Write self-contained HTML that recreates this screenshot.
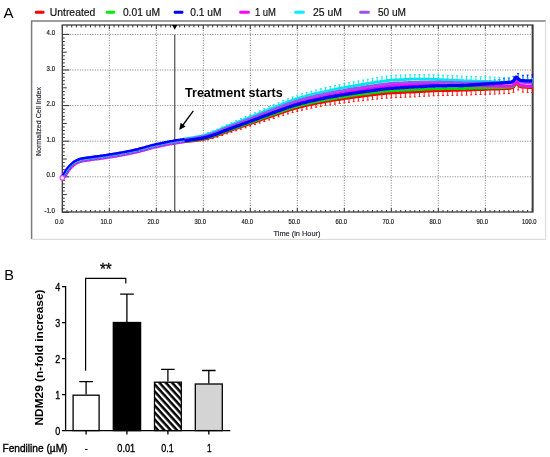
<!DOCTYPE html>
<html lang="en"><head><meta charset="utf-8"><title>Figure</title>
<style>html,body{margin:0;padding:0;background:#fff}svg{display:block}text{font-family:"Liberation Sans",Arial,sans-serif}</style></head>
<body>
<svg width="550" height="457" viewBox="0 0 550 457">
<rect width="550" height="457" fill="#fff"/>
<text x="3.6" y="17.8" font-size="15" fill="#000">A</text>
<rect x="34.8" y="10.8" width="9.7" height="2.9" rx="1.2" fill="#ff0000"/>
<text x="49.8" y="16" font-size="11" fill="#111" stroke="#111" stroke-width="0.2" textLength="45.5" lengthAdjust="spacingAndGlyphs">Untreated</text>
<rect x="105.7" y="10.8" width="9.4" height="2.9" rx="1.2" fill="#00ee00"/>
<text x="122.9" y="16" font-size="11" fill="#111" stroke="#111" stroke-width="0.2" textLength="37.1" lengthAdjust="spacingAndGlyphs">0.01 uM</text>
<rect x="173.7" y="10.8" width="9.7" height="2.9" rx="1.2" fill="#0000ff"/>
<text x="190.2" y="16" font-size="11" fill="#111" stroke="#111" stroke-width="0.2" textLength="31.3" lengthAdjust="spacingAndGlyphs">0.1 uM</text>
<rect x="239.2" y="10.8" width="10.6" height="2.9" rx="1.2" fill="#ff00ff"/>
<text x="255" y="16" font-size="11" fill="#111" stroke="#111" stroke-width="0.2" textLength="21.0" lengthAdjust="spacingAndGlyphs">1 uM</text>
<rect x="294.2" y="10.8" width="10.6" height="2.9" rx="1.2" fill="#00f0ff"/>
<text x="313" y="16" font-size="11" fill="#111" stroke="#111" stroke-width="0.2" textLength="29.0" lengthAdjust="spacingAndGlyphs">25 uM</text>
<rect x="359.2" y="10.8" width="10.6" height="2.9" rx="1.2" fill="#a050f0"/>
<text x="378" y="16" font-size="11" fill="#111" stroke="#111" stroke-width="0.2" textLength="28.0" lengthAdjust="spacingAndGlyphs">50 uM</text>
<path d="M31.6 239.3 V20.9 H546" fill="none" stroke="#7d7d7d" stroke-width="1.5"/>
<path d="M31.6 239.3 H545.6 V20.9" fill="none" stroke="#dcdcdc" stroke-width="1.2"/>
<path d="M109.3 25.0 V212.0 M156.3 25.0 V212.0 M203.3 25.0 V212.0 M250.3 25.0 V212.0 M297.3 25.0 V212.0 M344.3 25.0 V212.0 M391.3 25.0 V212.0 M438.3 25.0 V212.0 M485.3 25.0 V212.0 M62.3 176.8 H532.3 M62.3 141.2 H532.3 M62.3 105.6 H532.3 M62.3 70.0 H532.3 M62.3 34.4 H532.3" fill="none" stroke="#858585" stroke-width="1" stroke-dasharray="1.1 1.4"/>
<path d="M62.3 212.0 v-4 M62.3 25.0 v4.2 M67.0 212.0 v-2 M67.0 25.0 v2.4 M71.7 212.0 v-2 M71.7 25.0 v2.4 M76.4 212.0 v-2 M76.4 25.0 v2.4 M81.1 212.0 v-2 M81.1 25.0 v2.4 M85.8 212.0 v-2 M85.8 25.0 v2.4 M90.5 212.0 v-2 M90.5 25.0 v2.4 M95.2 212.0 v-2 M95.2 25.0 v2.4 M99.9 212.0 v-2 M99.9 25.0 v2.4 M104.6 212.0 v-2 M104.6 25.0 v2.4 M109.3 212.0 v-4 M109.3 25.0 v4.2 M114.0 212.0 v-2 M114.0 25.0 v2.4 M118.7 212.0 v-2 M118.7 25.0 v2.4 M123.4 212.0 v-2 M123.4 25.0 v2.4 M128.1 212.0 v-2 M128.1 25.0 v2.4 M132.8 212.0 v-2 M132.8 25.0 v2.4 M137.5 212.0 v-2 M137.5 25.0 v2.4 M142.2 212.0 v-2 M142.2 25.0 v2.4 M146.9 212.0 v-2 M146.9 25.0 v2.4 M151.6 212.0 v-2 M151.6 25.0 v2.4 M156.3 212.0 v-4 M156.3 25.0 v4.2 M161.0 212.0 v-2 M161.0 25.0 v2.4 M165.7 212.0 v-2 M165.7 25.0 v2.4 M170.4 212.0 v-2 M170.4 25.0 v2.4 M175.1 212.0 v-2 M175.1 25.0 v2.4 M179.8 212.0 v-2 M179.8 25.0 v2.4 M184.5 212.0 v-2 M184.5 25.0 v2.4 M189.2 212.0 v-2 M189.2 25.0 v2.4 M193.9 212.0 v-2 M193.9 25.0 v2.4 M198.6 212.0 v-2 M198.6 25.0 v2.4 M203.3 212.0 v-4 M203.3 25.0 v4.2 M208.0 212.0 v-2 M208.0 25.0 v2.4 M212.7 212.0 v-2 M212.7 25.0 v2.4 M217.4 212.0 v-2 M217.4 25.0 v2.4 M222.1 212.0 v-2 M222.1 25.0 v2.4 M226.8 212.0 v-2 M226.8 25.0 v2.4 M231.5 212.0 v-2 M231.5 25.0 v2.4 M236.2 212.0 v-2 M236.2 25.0 v2.4 M240.9 212.0 v-2 M240.9 25.0 v2.4 M245.6 212.0 v-2 M245.6 25.0 v2.4 M250.3 212.0 v-4 M250.3 25.0 v4.2 M255.0 212.0 v-2 M255.0 25.0 v2.4 M259.7 212.0 v-2 M259.7 25.0 v2.4 M264.4 212.0 v-2 M264.4 25.0 v2.4 M269.1 212.0 v-2 M269.1 25.0 v2.4 M273.8 212.0 v-2 M273.8 25.0 v2.4 M278.5 212.0 v-2 M278.5 25.0 v2.4 M283.2 212.0 v-2 M283.2 25.0 v2.4 M287.9 212.0 v-2 M287.9 25.0 v2.4 M292.6 212.0 v-2 M292.6 25.0 v2.4 M297.3 212.0 v-4 M297.3 25.0 v4.2 M302.0 212.0 v-2 M302.0 25.0 v2.4 M306.7 212.0 v-2 M306.7 25.0 v2.4 M311.4 212.0 v-2 M311.4 25.0 v2.4 M316.1 212.0 v-2 M316.1 25.0 v2.4 M320.8 212.0 v-2 M320.8 25.0 v2.4 M325.5 212.0 v-2 M325.5 25.0 v2.4 M330.2 212.0 v-2 M330.2 25.0 v2.4 M334.9 212.0 v-2 M334.9 25.0 v2.4 M339.6 212.0 v-2 M339.6 25.0 v2.4 M344.3 212.0 v-4 M344.3 25.0 v4.2 M349.0 212.0 v-2 M349.0 25.0 v2.4 M353.7 212.0 v-2 M353.7 25.0 v2.4 M358.4 212.0 v-2 M358.4 25.0 v2.4 M363.1 212.0 v-2 M363.1 25.0 v2.4 M367.8 212.0 v-2 M367.8 25.0 v2.4 M372.5 212.0 v-2 M372.5 25.0 v2.4 M377.2 212.0 v-2 M377.2 25.0 v2.4 M381.9 212.0 v-2 M381.9 25.0 v2.4 M386.6 212.0 v-2 M386.6 25.0 v2.4 M391.3 212.0 v-4 M391.3 25.0 v4.2 M396.0 212.0 v-2 M396.0 25.0 v2.4 M400.7 212.0 v-2 M400.7 25.0 v2.4 M405.4 212.0 v-2 M405.4 25.0 v2.4 M410.1 212.0 v-2 M410.1 25.0 v2.4 M414.8 212.0 v-2 M414.8 25.0 v2.4 M419.5 212.0 v-2 M419.5 25.0 v2.4 M424.2 212.0 v-2 M424.2 25.0 v2.4 M428.9 212.0 v-2 M428.9 25.0 v2.4 M433.6 212.0 v-2 M433.6 25.0 v2.4 M438.3 212.0 v-4 M438.3 25.0 v4.2 M443.0 212.0 v-2 M443.0 25.0 v2.4 M447.7 212.0 v-2 M447.7 25.0 v2.4 M452.4 212.0 v-2 M452.4 25.0 v2.4 M457.1 212.0 v-2 M457.1 25.0 v2.4 M461.8 212.0 v-2 M461.8 25.0 v2.4 M466.5 212.0 v-2 M466.5 25.0 v2.4 M471.2 212.0 v-2 M471.2 25.0 v2.4 M475.9 212.0 v-2 M475.9 25.0 v2.4 M480.6 212.0 v-2 M480.6 25.0 v2.4 M485.3 212.0 v-4 M485.3 25.0 v4.2 M490.0 212.0 v-2 M490.0 25.0 v2.4 M494.7 212.0 v-2 M494.7 25.0 v2.4 M499.4 212.0 v-2 M499.4 25.0 v2.4 M504.1 212.0 v-2 M504.1 25.0 v2.4 M508.8 212.0 v-2 M508.8 25.0 v2.4 M513.5 212.0 v-2 M513.5 25.0 v2.4 M518.2 212.0 v-2 M518.2 25.0 v2.4 M522.9 212.0 v-2 M522.9 25.0 v2.4 M527.6 212.0 v-2 M527.6 25.0 v2.4 M532.3 212.0 v-4 M532.3 25.0 v4.2 M62.3 212.4 h7 M62.3 208.8 h2.5 M62.3 205.3 h2.5 M62.3 201.7 h2.5 M62.3 198.2 h2.5 M62.3 194.6 h4.5 M62.3 191.0 h2.5 M62.3 187.5 h2.5 M62.3 183.9 h2.5 M62.3 180.4 h2.5 M62.3 176.8 h7 M62.3 173.2 h2.5 M62.3 169.7 h2.5 M62.3 166.1 h2.5 M62.3 162.6 h2.5 M62.3 159.0 h4.5 M62.3 155.4 h2.5 M62.3 151.9 h2.5 M62.3 148.3 h2.5 M62.3 144.8 h2.5 M62.3 141.2 h7 M62.3 137.6 h2.5 M62.3 134.1 h2.5 M62.3 130.5 h2.5 M62.3 127.0 h2.5 M62.3 123.4 h4.5 M62.3 119.8 h2.5 M62.3 116.3 h2.5 M62.3 112.7 h2.5 M62.3 109.2 h2.5 M62.3 105.6 h7 M62.3 102.0 h2.5 M62.3 98.5 h2.5 M62.3 94.9 h2.5 M62.3 91.4 h2.5 M62.3 87.8 h4.5 M62.3 84.2 h2.5 M62.3 80.7 h2.5 M62.3 77.1 h2.5 M62.3 73.6 h2.5 M62.3 70.0 h7 M62.3 66.4 h2.5 M62.3 62.9 h2.5 M62.3 59.3 h2.5 M62.3 55.8 h2.5 M62.3 52.2 h4.5 M62.3 48.6 h2.5 M62.3 45.1 h2.5 M62.3 41.5 h2.5 M62.3 38.0 h2.5 M62.3 34.4 h7" fill="none" stroke="#333" stroke-width="1"/>
<rect x="62.3" y="25.0" width="470.0" height="187.0" fill="none" stroke="#3c3c3c" stroke-width="1.3"/>
<line x1="533.0" y1="24.4" x2="533.0" y2="212.6" stroke="#3c3c3c" stroke-width="1.3"/>
<line x1="174.7" y1="34.4" x2="174.7" y2="212.0" stroke="#666" stroke-width="1.4"/>
<path d="M172.2 25 H177.3 L174.75 29.8 Z" fill="#000"/>
<text x="59.3" y="223.8" font-size="6.7" fill="#222" stroke="#222" stroke-width="0.2" text-anchor="middle" textLength="8.4" lengthAdjust="spacingAndGlyphs">0.0</text>
<text x="106.3" y="223.8" font-size="6.7" fill="#222" stroke="#222" stroke-width="0.2" text-anchor="middle" textLength="11.4" lengthAdjust="spacingAndGlyphs">10.0</text>
<text x="153.3" y="223.8" font-size="6.7" fill="#222" stroke="#222" stroke-width="0.2" text-anchor="middle" textLength="11.4" lengthAdjust="spacingAndGlyphs">20.0</text>
<text x="200.3" y="223.8" font-size="6.7" fill="#222" stroke="#222" stroke-width="0.2" text-anchor="middle" textLength="11.4" lengthAdjust="spacingAndGlyphs">30.0</text>
<text x="247.3" y="223.8" font-size="6.7" fill="#222" stroke="#222" stroke-width="0.2" text-anchor="middle" textLength="11.4" lengthAdjust="spacingAndGlyphs">40.0</text>
<text x="294.3" y="223.8" font-size="6.7" fill="#222" stroke="#222" stroke-width="0.2" text-anchor="middle" textLength="11.4" lengthAdjust="spacingAndGlyphs">50.0</text>
<text x="341.3" y="223.8" font-size="6.7" fill="#222" stroke="#222" stroke-width="0.2" text-anchor="middle" textLength="11.4" lengthAdjust="spacingAndGlyphs">60.0</text>
<text x="388.3" y="223.8" font-size="6.7" fill="#222" stroke="#222" stroke-width="0.2" text-anchor="middle" textLength="11.4" lengthAdjust="spacingAndGlyphs">70.0</text>
<text x="435.3" y="223.8" font-size="6.7" fill="#222" stroke="#222" stroke-width="0.2" text-anchor="middle" textLength="11.4" lengthAdjust="spacingAndGlyphs">80.0</text>
<text x="482.3" y="223.8" font-size="6.7" fill="#222" stroke="#222" stroke-width="0.2" text-anchor="middle" textLength="11.4" lengthAdjust="spacingAndGlyphs">90.0</text>
<text x="529.3" y="223.8" font-size="6.7" fill="#222" stroke="#222" stroke-width="0.2" text-anchor="middle" textLength="14.6" lengthAdjust="spacingAndGlyphs">100.0</text>
<text x="55" y="212.9" font-size="6.7" fill="#222" stroke="#222" stroke-width="0.2" text-anchor="end" textLength="10.6" lengthAdjust="spacingAndGlyphs">-1.0</text>
<text x="55" y="177.3" font-size="6.7" fill="#222" stroke="#222" stroke-width="0.2" text-anchor="end" textLength="8.4" lengthAdjust="spacingAndGlyphs">0.0</text>
<text x="55" y="141.7" font-size="6.7" fill="#222" stroke="#222" stroke-width="0.2" text-anchor="end" textLength="8.4" lengthAdjust="spacingAndGlyphs">1.0</text>
<text x="55" y="106.1" font-size="6.7" fill="#222" stroke="#222" stroke-width="0.2" text-anchor="end" textLength="8.4" lengthAdjust="spacingAndGlyphs">2.0</text>
<text x="55" y="70.5" font-size="6.7" fill="#222" stroke="#222" stroke-width="0.2" text-anchor="end" textLength="8.4" lengthAdjust="spacingAndGlyphs">3.0</text>
<text x="55" y="34.9" font-size="6.7" fill="#222" stroke="#222" stroke-width="0.2" text-anchor="end" textLength="8.4" lengthAdjust="spacingAndGlyphs">4.0</text>
<text x="297" y="236.3" font-size="7.6" fill="#223" stroke="#223" stroke-width="0.15" text-anchor="middle" textLength="47" lengthAdjust="spacingAndGlyphs">Time (in Hour)</text>
<text transform="translate(41 121.5) rotate(-90)" font-size="7.6" fill="#223" stroke="#223" stroke-width="0.15" text-anchor="middle" textLength="69" lengthAdjust="spacingAndGlyphs">Normalized Cell Index</text>
<path d="M203.3 139.4 V140.9 m-1 0 h2 M208.0 138.3 V139.9 m-1 0 h2 M212.7 136.9 V138.6 m-1 0 h2 M217.4 135.3 V137.2 m-1 0 h2 M222.1 133.6 V135.5 m-1 0 h2 M226.8 131.8 V133.8 m-1 0 h2 M231.5 130.1 V132.3 m-1 0 h2 M236.2 128.5 V130.8 m-1 0 h2 M240.9 126.9 V129.3 m-1 0 h2 M245.6 125.3 V127.8 m-1 0 h2 M250.3 123.7 V126.2 m-1 0 h2 M255.0 122.0 V124.7 m-1 0 h2 M259.7 120.3 V123.1 m-1 0 h2 M264.4 118.7 V121.5 m-1 0 h2 M269.1 117.0 V120.0 m-1 0 h2 M273.8 115.4 V118.4 m-1 0 h2 M278.5 113.8 V116.9 m-1 0 h2 M283.2 112.1 V115.4 m-1 0 h2 M287.9 110.6 V114.0 m-1 0 h2 M292.6 109.1 V112.6 m-1 0 h2 M297.3 107.8 V111.4 m-1 0 h2 M302.0 106.6 V110.2 m-1 0 h2 M306.7 105.4 V109.2 m-1 0 h2 M311.4 104.4 V108.2 m-1 0 h2 M316.1 103.4 V107.3 m-1 0 h2 M320.8 102.5 V106.4 m-1 0 h2 M325.5 101.6 V105.6 m-1 0 h2 M330.2 100.8 V104.9 m-1 0 h2 M334.9 100.0 V104.2 m-1 0 h2 M339.6 99.3 V103.5 m-1 0 h2 M344.3 98.6 V102.9 m-1 0 h2 M349.0 97.9 V102.3 m-1 0 h2 M353.7 97.3 V101.7 m-1 0 h2 M358.4 96.6 V101.1 m-1 0 h2 M363.1 96.0 V100.6 m-1 0 h2 M367.8 95.4 V100.1 m-1 0 h2 M372.5 94.9 V99.6 m-1 0 h2 M377.2 94.3 V99.1 m-1 0 h2 M381.9 93.8 V98.6 m-1 0 h2 M386.6 93.3 V98.2 m-1 0 h2 M391.3 93.0 V98.0 m-1 0 h2 M396.0 92.7 V97.7 m-1 0 h2 M400.7 92.5 V97.5 m-1 0 h2 M405.4 92.3 V97.3 m-1 0 h2 M410.1 92.1 V97.1 m-1 0 h2 M414.8 91.9 V96.9 m-1 0 h2 M419.5 91.6 V96.6 m-1 0 h2 M424.2 91.4 V96.3 m-1 0 h2 M428.9 91.1 V96.1 m-1 0 h2 M433.6 90.9 V95.8 m-1 0 h2 M438.3 90.7 V95.7 m-1 0 h2 M443.0 90.6 V95.6 m-1 0 h2 M447.7 90.5 V95.5 m-1 0 h2 M452.4 90.4 V95.4 m-1 0 h2 M457.1 90.3 V95.3 m-1 0 h2 M461.8 90.2 V95.2 m-1 0 h2 M466.5 90.1 V95.1 m-1 0 h2 M471.2 89.9 V94.9 m-1 0 h2 M475.9 89.7 V94.7 m-1 0 h2 M480.6 89.5 V94.5 m-1 0 h2 M485.3 89.4 V94.4 m-1 0 h2 M490.0 89.2 V94.2 m-1 0 h2 M494.7 89.1 V94.1 m-1 0 h2 M499.4 88.9 V93.9 m-1 0 h2 M504.1 88.7 V93.7 m-1 0 h2 M508.8 88.5 V93.5 m-1 0 h2 M513.5 87.3 V92.3 m-1 0 h2 M518.2 85.0 V90.0 m-1 0 h2 M522.9 87.1 V92.1 m-1 0 h2 M527.6 87.4 V92.4 m-1 0 h2 M532.3 87.7 V92.6 m-1 0 h2" fill="none" stroke="#ff0000" stroke-width="0.9"/>
<path d="M471.2 85.0 V83.2 m-1 0 h2 M475.9 84.6 V82.6 m-1 0 h2 M480.6 84.3 V81.9 m-1 0 h2 M485.3 84.0 V81.2 m-1 0 h2 M490.0 83.7 V80.6 m-1 0 h2 M494.7 83.4 V80.0 m-1 0 h2 M499.4 83.1 V79.4 m-1 0 h2 M504.1 82.8 V78.7 m-1 0 h2 M508.8 82.4 V78.0 m-1 0 h2 M513.5 81.1 V76.4 m-1 0 h2 M518.2 78.7 V73.6 m-1 0 h2 M522.9 80.7 V75.3 m-1 0 h2 M527.6 80.8 V75.1 m-1 0 h2 M532.3 80.9 V74.8 m-1 0 h2" fill="none" stroke="#0000ff" stroke-width="0.9"/>
<path d="M208.0 134.1 V132.6 m-1 0 h2 M212.7 132.5 V130.9 m-1 0 h2 M217.4 130.7 V129.0 m-1 0 h2 M222.1 128.6 V126.8 m-1 0 h2 M226.8 126.6 V124.7 m-1 0 h2 M231.5 124.7 V122.7 m-1 0 h2 M236.2 122.8 V120.7 m-1 0 h2 M240.9 120.9 V118.7 m-1 0 h2 M245.6 119.0 V116.7 m-1 0 h2 M250.3 117.1 V114.8 m-1 0 h2 M255.0 115.2 V112.7 m-1 0 h2 M259.7 113.2 V110.7 m-1 0 h2 M264.4 111.3 V108.6 m-1 0 h2 M269.1 109.4 V106.6 m-1 0 h2 M273.8 107.5 V104.6 m-1 0 h2 M278.5 105.6 V102.7 m-1 0 h2 M283.2 103.7 V100.7 m-1 0 h2 M287.9 101.9 V98.7 m-1 0 h2 M292.6 100.1 V96.9 m-1 0 h2 M297.3 98.6 V95.2 m-1 0 h2 M302.0 97.2 V93.8 m-1 0 h2 M306.7 95.8 V92.4 m-1 0 h2 M311.4 94.6 V91.1 m-1 0 h2 M316.1 93.5 V89.9 m-1 0 h2 M320.8 92.4 V88.7 m-1 0 h2 M325.5 91.3 V87.6 m-1 0 h2 M330.2 90.3 V86.5 m-1 0 h2 M334.9 89.4 V85.5 m-1 0 h2 M339.6 88.5 V84.6 m-1 0 h2 M344.3 87.6 V83.6 m-1 0 h2 M349.0 86.7 V82.7 m-1 0 h2 M353.7 85.9 V81.8 m-1 0 h2 M358.4 85.1 V80.9 m-1 0 h2 M363.1 84.3 V80.0 m-1 0 h2 M367.8 83.5 V79.2 m-1 0 h2 M372.5 82.8 V78.4 m-1 0 h2 M377.2 82.0 V77.6 m-1 0 h2 M381.9 81.3 V76.8 m-1 0 h2 M386.6 80.7 V76.1 m-1 0 h2 M391.3 80.2 V75.6 m-1 0 h2 M396.0 79.9 V75.3 m-1 0 h2 M400.7 79.7 V75.0 m-1 0 h2 M405.4 79.5 V74.8 m-1 0 h2 M410.1 79.3 V74.7 m-1 0 h2 M414.8 79.1 V74.5 m-1 0 h2 M419.5 79.2 V74.5 m-1 0 h2 M424.2 79.2 V74.6 m-1 0 h2 M428.9 79.3 V74.6 m-1 0 h2 M433.6 79.4 V74.7 m-1 0 h2 M438.3 79.5 V74.9 m-1 0 h2 M443.0 79.8 V75.1 m-1 0 h2 M447.7 80.0 V75.4 m-1 0 h2 M452.4 80.2 V75.6 m-1 0 h2 M457.1 80.5 V75.8 m-1 0 h2 M461.8 80.7 V76.1 m-1 0 h2 M466.5 80.9 V76.3 m-1 0 h2 M471.2 81.0 V76.4 m-1 0 h2 M475.9 81.2 V76.6 m-1 0 h2 M480.6 81.3 V76.7 m-1 0 h2 M485.3 81.5 V76.8 m-1 0 h2 M490.0 81.6 V77.0 m-1 0 h2 M494.7 81.8 V77.2 m-1 0 h2 M499.4 82.0 V77.4 m-1 0 h2 M504.1 82.2 V77.5 m-1 0 h2 M508.8 82.2 V77.6 m-1 0 h2 M513.5 81.4 V76.8 m-1 0 h2 M518.2 79.4 V74.8 m-1 0 h2 M522.9 81.9 V77.2 m-1 0 h2 M527.6 82.5 V77.9 m-1 0 h2 M532.3 83.0 V78.4 m-1 0 h2" fill="none" stroke="#00e5ee" stroke-width="0.9"/>
<path d="M175.1 141.8 L176.3 141.8 L177.4 141.7 L178.6 141.7 L179.8 141.7 L181.0 141.7 L182.2 141.7 L183.3 141.7 L184.5 141.7 L185.7 141.6 L186.9 141.5 L188.0 141.4 L189.2 141.3 L190.4 141.2 L191.6 141.0 L192.7 140.9 L193.9 140.8 L195.1 140.6 L196.2 140.5 L197.4 140.3 L198.6 140.2 L199.8 140.0 L200.9 139.8 L202.1 139.6 L203.3 139.4 L204.5 139.2 L205.6 138.9 L206.8 138.6 L208.0 138.3 L209.2 138.0 L210.4 137.6 L211.5 137.3 L212.7 136.9 L213.9 136.5 L215.1 136.1 L216.2 135.8 L217.4 135.3 L218.6 134.9 L219.8 134.5 L220.9 134.0 L222.1 133.6 L223.3 133.1 L224.4 132.7 L225.6 132.2 L226.8 131.8 L228.0 131.4 L229.1 131.0 L230.3 130.6 L231.5 130.1 L232.7 129.7 L233.9 129.3 L235.0 128.9 L236.2 128.5 L237.4 128.1 L238.6 127.7 L239.7 127.3 L240.9 126.9 L242.1 126.5 L243.2 126.1 L244.4 125.7 L245.6 125.3 L246.8 124.9 L247.9 124.5 L249.1 124.1 L250.3 123.7 L251.5 123.3 L252.6 122.9 L253.8 122.4 L255.0 122.0 L256.2 121.6 L257.4 121.2 L258.5 120.8 L259.7 120.3 L260.9 119.9 L262.1 119.5 L263.2 119.1 L264.4 118.7 L265.6 118.2 L266.8 117.8 L267.9 117.4 L269.1 117.0 L270.3 116.6 L271.4 116.2 L272.6 115.8 L273.8 115.4 L275.0 115.0 L276.1 114.6 L277.3 114.2 L278.5 113.8 L279.7 113.4 L280.9 113.0 L282.0 112.5 L283.2 112.1 L284.4 111.7 L285.6 111.3 L286.7 111.0 L287.9 110.6 L289.1 110.2 L290.2 109.8 L291.4 109.5 L292.6 109.1 L293.8 108.8 L294.9 108.4 L296.1 108.1 L297.3 107.8 L298.5 107.5 L299.7 107.2 L300.8 106.9 L302.0 106.6 L303.2 106.3 L304.4 106.0 L305.5 105.7 L306.7 105.4 L307.9 105.2 L309.1 104.9 L310.2 104.6 L311.4 104.4 L312.6 104.1 L313.8 103.9 L314.9 103.6 L316.1 103.4 L317.3 103.2 L318.5 102.9 L319.6 102.7 L320.8 102.5 L322.0 102.3 L323.2 102.0 L324.3 101.8 L325.5 101.6 L326.7 101.4 L327.9 101.2 L329.0 101.0 L330.2 100.8 L331.4 100.6 L332.6 100.4 L333.7 100.2 L334.9 100.0 L336.1 99.9 L337.2 99.7 L338.4 99.5 L339.6 99.3 L340.8 99.1 L342.0 99.0 L343.1 98.8 L344.3 98.6 L345.5 98.4 L346.7 98.3 L347.8 98.1 L349.0 97.9 L350.2 97.8 L351.4 97.6 L352.5 97.4 L353.7 97.3 L354.9 97.1 L356.1 96.9 L357.2 96.8 L358.4 96.6 L359.6 96.5 L360.8 96.3 L361.9 96.2 L363.1 96.0 L364.3 95.9 L365.5 95.7 L366.6 95.6 L367.8 95.4 L369.0 95.3 L370.2 95.2 L371.3 95.0 L372.5 94.9 L373.7 94.7 L374.9 94.6 L376.0 94.4 L377.2 94.3 L378.4 94.2 L379.6 94.0 L380.7 93.9 L381.9 93.8 L383.1 93.6 L384.2 93.5 L385.4 93.4 L386.6 93.3 L387.8 93.2 L389.0 93.1 L390.1 93.1 L391.3 93.0 L392.5 92.9 L393.7 92.8 L394.8 92.8 L396.0 92.7 L397.2 92.7 L398.4 92.6 L399.5 92.5 L400.7 92.5 L401.9 92.4 L403.1 92.4 L404.2 92.3 L405.4 92.3 L406.6 92.2 L407.8 92.2 L408.9 92.1 L410.1 92.1 L411.3 92.1 L412.5 92.0 L413.6 92.0 L414.8 91.9 L416.0 91.9 L417.2 91.8 L418.3 91.7 L419.5 91.6 L420.7 91.6 L421.9 91.5 L423.0 91.4 L424.2 91.4 L425.4 91.3 L426.6 91.2 L427.7 91.2 L428.9 91.1 L430.1 91.0 L431.2 91.0 L432.4 90.9 L433.6 90.9 L434.8 90.8 L436.0 90.8 L437.1 90.7 L438.3 90.7 L439.5 90.7 L440.7 90.7 L441.8 90.6 L443.0 90.6 L444.2 90.6 L445.4 90.6 L446.5 90.5 L447.7 90.5 L448.9 90.5 L450.1 90.5 L451.2 90.4 L452.4 90.4 L453.6 90.4 L454.8 90.4 L455.9 90.3 L457.1 90.3 L458.3 90.3 L459.5 90.3 L460.6 90.2 L461.8 90.2 L463.0 90.2 L464.2 90.2 L465.3 90.1 L466.5 90.1 L467.7 90.1 L468.9 90.0 L470.0 90.0 L471.2 89.9 L472.4 89.9 L473.6 89.8 L474.7 89.8 L475.9 89.7 L477.1 89.7 L478.2 89.6 L479.4 89.6 L480.6 89.5 L481.8 89.5 L483.0 89.5 L484.1 89.4 L485.3 89.4 L486.5 89.3 L487.7 89.3 L488.8 89.2 L490.0 89.2 L491.2 89.2 L492.4 89.1 L493.5 89.1 L494.7 89.1 L495.9 89.0 L497.1 89.0 L498.2 89.0 L499.4 88.9 L500.6 88.9 L501.8 88.8 L502.9 88.8 L504.1 88.7 L505.3 88.7 L506.5 88.6 L507.6 88.6 L508.8 88.5 L510.0 88.4 L511.2 88.2 L512.3 87.8 L513.5 87.3 L514.7 85.2 L515.9 83.4 L517.0 83.9 L518.2 85.0 L519.4 86.2 L520.5 86.8 L521.7 87.0 L522.9 87.1 L524.1 87.2 L525.2 87.3 L526.4 87.4 L527.6 87.4 L528.8 87.5 L530.0 87.5 L531.1 87.6 L532.3 87.7" fill="none" stroke="#ff0000" stroke-width="2.8" stroke-linejoin="round" stroke-linecap="butt"/>
<path d="M175.1 141.8 L176.3 141.7 L177.4 141.6 L178.6 141.5 L179.8 141.5 L181.0 141.4 L182.2 141.4 L183.3 141.3 L184.5 141.3 L185.7 141.1 L186.9 141.0 L188.0 140.9 L189.2 140.8 L190.4 140.6 L191.6 140.5 L192.7 140.4 L193.9 140.2 L195.1 140.1 L196.2 139.9 L197.4 139.7 L198.6 139.6 L199.8 139.4 L200.9 139.2 L202.1 139.0 L203.3 138.8 L204.5 138.5 L205.6 138.2 L206.8 137.9 L208.0 137.6 L209.2 137.3 L210.4 136.9 L211.5 136.5 L212.7 136.1 L213.9 135.8 L215.1 135.4 L216.2 135.0 L217.4 134.6 L218.6 134.1 L219.8 133.7 L220.9 133.2 L222.1 132.8 L223.3 132.3 L224.4 131.8 L225.6 131.4 L226.8 130.9 L228.0 130.5 L229.1 130.1 L230.3 129.7 L231.5 129.2 L232.7 128.8 L233.9 128.4 L235.0 128.0 L236.2 127.6 L237.4 127.2 L238.6 126.7 L239.7 126.3 L240.9 125.9 L242.1 125.5 L243.2 125.1 L244.4 124.7 L245.6 124.3 L246.8 123.8 L247.9 123.4 L249.1 123.0 L250.3 122.6 L251.5 122.2 L252.6 121.7 L253.8 121.3 L255.0 120.9 L256.2 120.5 L257.4 120.0 L258.5 119.6 L259.7 119.2 L260.9 118.7 L262.1 118.3 L263.2 117.9 L264.4 117.4 L265.6 117.0 L266.8 116.6 L267.9 116.1 L269.1 115.7 L270.3 115.3 L271.4 114.9 L272.6 114.5 L273.8 114.1 L275.0 113.6 L276.1 113.2 L277.3 112.8 L278.5 112.4 L279.7 112.0 L280.9 111.6 L282.0 111.2 L283.2 110.7 L284.4 110.3 L285.6 109.9 L286.7 109.5 L287.9 109.1 L289.1 108.7 L290.2 108.3 L291.4 108.0 L292.6 107.6 L293.8 107.2 L294.9 106.9 L296.1 106.6 L297.3 106.2 L298.5 105.9 L299.7 105.6 L300.8 105.3 L302.0 105.0 L303.2 104.7 L304.4 104.4 L305.5 104.1 L306.7 103.8 L307.9 103.6 L309.1 103.3 L310.2 103.0 L311.4 102.8 L312.6 102.5 L313.8 102.2 L314.9 102.0 L316.1 101.7 L317.3 101.5 L318.5 101.3 L319.6 101.0 L320.8 100.8 L322.0 100.6 L323.2 100.3 L324.3 100.1 L325.5 99.9 L326.7 99.7 L327.9 99.5 L329.0 99.3 L330.2 99.1 L331.4 98.9 L332.6 98.7 L333.7 98.5 L334.9 98.3 L336.1 98.1 L337.2 97.9 L338.4 97.7 L339.6 97.5 L340.8 97.3 L342.0 97.1 L343.1 97.0 L344.3 96.8 L345.5 96.6 L346.7 96.4 L347.8 96.2 L349.0 96.1 L350.2 95.9 L351.4 95.7 L352.5 95.5 L353.7 95.4 L354.9 95.2 L356.1 95.0 L357.2 94.9 L358.4 94.7 L359.6 94.5 L360.8 94.4 L361.9 94.2 L363.1 94.1 L364.3 93.9 L365.5 93.8 L366.6 93.6 L367.8 93.5 L369.0 93.3 L370.2 93.2 L371.3 93.0 L372.5 92.9 L373.7 92.7 L374.9 92.6 L376.0 92.4 L377.2 92.3 L378.4 92.1 L379.6 92.0 L380.7 91.8 L381.9 91.7 L383.1 91.6 L384.2 91.4 L385.4 91.3 L386.6 91.2 L387.8 91.1 L389.0 91.0 L390.1 90.9 L391.3 90.9 L392.5 90.8 L393.7 90.7 L394.8 90.6 L396.0 90.6 L397.2 90.5 L398.4 90.5 L399.5 90.4 L400.7 90.3 L401.9 90.3 L403.1 90.2 L404.2 90.2 L405.4 90.1 L406.6 90.1 L407.8 90.1 L408.9 90.0 L410.1 90.0 L411.3 89.9 L412.5 89.9 L413.6 89.8 L414.8 89.8 L416.0 89.7 L417.2 89.7 L418.3 89.6 L419.5 89.6 L420.7 89.5 L421.9 89.4 L423.0 89.4 L424.2 89.3 L425.4 89.2 L426.6 89.2 L427.7 89.1 L428.9 89.1 L430.1 89.0 L431.2 89.0 L432.4 88.9 L433.6 88.9 L434.8 88.9 L436.0 88.8 L437.1 88.8 L438.3 88.8 L439.5 88.8 L440.7 88.8 L441.8 88.8 L443.0 88.7 L444.2 88.7 L445.4 88.7 L446.5 88.7 L447.7 88.7 L448.9 88.7 L450.1 88.7 L451.2 88.6 L452.4 88.6 L453.6 88.6 L454.8 88.6 L455.9 88.6 L457.1 88.6 L458.3 88.6 L459.5 88.5 L460.6 88.5 L461.8 88.5 L463.0 88.5 L464.2 88.5 L465.3 88.5 L466.5 88.4 L467.7 88.4 L468.9 88.4 L470.0 88.3 L471.2 88.3 L472.4 88.3 L473.6 88.2 L474.7 88.2 L475.9 88.2 L477.1 88.1 L478.2 88.1 L479.4 88.0 L480.6 88.0 L481.8 88.0 L483.0 87.9 L484.1 87.9 L485.3 87.9 L486.5 87.8 L487.7 87.8 L488.8 87.8 L490.0 87.8 L491.2 87.7 L492.4 87.7 L493.5 87.7 L494.7 87.7 L495.9 87.6 L497.1 87.6 L498.2 87.6 L499.4 87.6 L500.6 87.5 L501.8 87.5 L502.9 87.5 L504.1 87.4 L505.3 87.4 L506.5 87.3 L507.6 87.3 L508.8 87.2 L510.0 87.1 L511.2 86.9 L512.3 86.6 L513.5 86.1 L514.7 84.0 L515.9 82.2 L517.0 82.7 L518.2 83.8 L519.4 85.0 L520.5 85.7 L521.7 85.8 L522.9 86.0 L524.1 86.1 L525.2 86.2 L526.4 86.3 L527.6 86.3 L528.8 86.4 L530.0 86.4 L531.1 86.5 L532.3 86.6" fill="none" stroke="#00dd00" stroke-width="2.8" stroke-linejoin="round" stroke-linecap="butt"/>
<path d="M175.1 141.8 L176.3 141.5 L177.4 141.3 L178.6 141.1 L179.8 140.9 L181.0 140.7 L182.2 140.5 L183.3 140.3 L184.5 140.1 L185.7 139.9 L186.9 139.8 L188.0 139.6 L189.2 139.5 L190.4 139.3 L191.6 139.2 L192.7 139.0 L193.9 138.8 L195.1 138.6 L196.2 138.4 L197.4 138.3 L198.6 138.1 L199.8 137.8 L200.9 137.6 L202.1 137.4 L203.3 137.1 L204.5 136.9 L205.6 136.6 L206.8 136.2 L208.0 135.9 L209.2 135.5 L210.4 135.1 L211.5 134.7 L212.7 134.3 L213.9 133.9 L215.1 133.5 L216.2 133.1 L217.4 132.6 L218.6 132.1 L219.8 131.7 L220.9 131.2 L222.1 130.7 L223.3 130.2 L224.4 129.7 L225.6 129.2 L226.8 128.8 L228.0 128.3 L229.1 127.8 L230.3 127.4 L231.5 126.9 L232.7 126.5 L233.9 126.1 L235.0 125.6 L236.2 125.2 L237.4 124.7 L238.6 124.3 L239.7 123.8 L240.9 123.4 L242.1 123.0 L243.2 122.5 L244.4 122.1 L245.6 121.6 L246.8 121.2 L247.9 120.8 L249.1 120.3 L250.3 119.9 L251.5 119.4 L252.6 119.0 L253.8 118.5 L255.0 118.0 L256.2 117.6 L257.4 117.1 L258.5 116.7 L259.7 116.2 L260.9 115.7 L262.1 115.3 L263.2 114.8 L264.4 114.4 L265.6 113.9 L266.8 113.4 L267.9 113.0 L269.1 112.5 L270.3 112.1 L271.4 111.6 L272.6 111.2 L273.8 110.8 L275.0 110.3 L276.1 109.9 L277.3 109.4 L278.5 109.0 L279.7 108.6 L280.9 108.1 L282.0 107.7 L283.2 107.2 L284.4 106.8 L285.6 106.4 L286.7 105.9 L287.9 105.5 L289.1 105.1 L290.2 104.7 L291.4 104.3 L292.6 103.9 L293.8 103.5 L294.9 103.1 L296.1 102.7 L297.3 102.4 L298.5 102.1 L299.7 101.7 L300.8 101.4 L302.0 101.1 L303.2 100.8 L304.4 100.4 L305.5 100.1 L306.7 99.8 L307.9 99.5 L309.1 99.3 L310.2 99.0 L311.4 98.7 L312.6 98.4 L313.8 98.1 L314.9 97.9 L316.1 97.6 L317.3 97.3 L318.5 97.1 L319.6 96.8 L320.8 96.6 L322.0 96.3 L323.2 96.1 L324.3 95.8 L325.5 95.6 L326.7 95.4 L327.9 95.1 L329.0 94.9 L330.2 94.7 L331.4 94.5 L332.6 94.3 L333.7 94.0 L334.9 93.8 L336.1 93.6 L337.2 93.4 L338.4 93.2 L339.6 93.0 L340.8 92.8 L342.0 92.6 L343.1 92.4 L344.3 92.2 L345.5 92.0 L346.7 91.8 L347.8 91.6 L349.0 91.4 L350.2 91.2 L351.4 91.0 L352.5 90.8 L353.7 90.6 L354.9 90.4 L356.1 90.2 L357.2 90.1 L358.4 89.9 L359.6 89.7 L360.8 89.5 L361.9 89.3 L363.1 89.2 L364.3 89.0 L365.5 88.8 L366.6 88.7 L367.8 88.5 L369.0 88.3 L370.2 88.2 L371.3 88.0 L372.5 87.8 L373.7 87.6 L374.9 87.5 L376.0 87.3 L377.2 87.1 L378.4 87.0 L379.6 86.8 L380.7 86.6 L381.9 86.5 L383.1 86.3 L384.2 86.2 L385.4 86.1 L386.6 85.9 L387.8 85.8 L389.0 85.7 L390.1 85.6 L391.3 85.5 L392.5 85.4 L393.7 85.4 L394.8 85.3 L396.0 85.2 L397.2 85.2 L398.4 85.1 L399.5 85.1 L400.7 85.0 L401.9 85.0 L403.1 84.9 L404.2 84.9 L405.4 84.8 L406.6 84.8 L407.8 84.7 L408.9 84.7 L410.1 84.6 L411.3 84.6 L412.5 84.5 L413.6 84.5 L414.8 84.5 L416.0 84.4 L417.2 84.4 L418.3 84.4 L419.5 84.4 L420.7 84.4 L421.9 84.4 L423.0 84.4 L424.2 84.4 L425.4 84.4 L426.6 84.4 L427.7 84.4 L428.9 84.4 L430.1 84.4 L431.2 84.4 L432.4 84.4 L433.6 84.4 L434.8 84.4 L436.0 84.5 L437.1 84.5 L438.3 84.5 L439.5 84.6 L440.7 84.6 L441.8 84.6 L443.0 84.7 L444.2 84.7 L445.4 84.8 L446.5 84.8 L447.7 84.8 L448.9 84.9 L450.1 84.9 L451.2 85.0 L452.4 85.0 L453.6 85.0 L454.8 85.1 L455.9 85.1 L457.1 85.2 L458.3 85.2 L459.5 85.2 L460.6 85.3 L461.8 85.3 L463.0 85.3 L464.2 85.4 L465.3 85.4 L466.5 85.4 L467.7 85.5 L468.9 85.5 L470.0 85.5 L471.2 85.5 L472.4 85.5 L473.6 85.6 L474.7 85.6 L475.9 85.6 L477.1 85.6 L478.2 85.6 L479.4 85.6 L480.6 85.7 L481.8 85.7 L483.0 85.7 L484.1 85.7 L485.3 85.7 L486.5 85.8 L487.7 85.8 L488.8 85.8 L490.0 85.8 L491.2 85.9 L492.4 85.9 L493.5 85.9 L494.7 86.0 L495.9 86.0 L497.1 86.0 L498.2 86.0 L499.4 86.1 L500.6 86.1 L501.8 86.1 L502.9 86.1 L504.1 86.1 L505.3 86.1 L506.5 86.2 L507.6 86.2 L508.8 86.2 L510.0 86.1 L511.2 85.9 L512.3 85.7 L513.5 85.3 L514.7 83.2 L515.9 81.4 L517.0 82.0 L518.2 83.2 L519.4 84.4 L520.5 85.1 L521.7 85.4 L522.9 85.6 L524.1 85.7 L525.2 85.9 L526.4 86.0 L527.6 86.1 L528.8 86.2 L530.0 86.3 L531.1 86.5 L532.3 86.6" fill="none" stroke="#ff00ff" stroke-width="2.8" stroke-linejoin="round" stroke-linecap="butt"/>
<path d="M175.1 141.8 L176.3 141.4 L177.4 141.0 L178.6 140.7 L179.8 140.3 L181.0 139.9 L182.2 139.6 L183.3 139.2 L184.5 138.9 L185.7 138.7 L186.9 138.6 L188.0 138.4 L189.2 138.2 L190.4 138.0 L191.6 137.8 L192.7 137.6 L193.9 137.4 L195.1 137.2 L196.2 137.0 L197.4 136.8 L198.6 136.5 L199.8 136.3 L200.9 136.1 L202.1 135.8 L203.3 135.5 L204.5 135.2 L205.6 134.9 L206.8 134.5 L208.0 134.1 L209.2 133.7 L210.4 133.3 L211.5 132.9 L212.7 132.5 L213.9 132.0 L215.1 131.6 L216.2 131.1 L217.4 130.7 L218.6 130.2 L219.8 129.7 L220.9 129.1 L222.1 128.6 L223.3 128.1 L224.4 127.6 L225.6 127.1 L226.8 126.6 L228.0 126.1 L229.1 125.6 L230.3 125.1 L231.5 124.7 L232.7 124.2 L233.9 123.7 L235.0 123.2 L236.2 122.8 L237.4 122.3 L238.6 121.8 L239.7 121.4 L240.9 120.9 L242.1 120.4 L243.2 120.0 L244.4 119.5 L245.6 119.0 L246.8 118.5 L247.9 118.1 L249.1 117.6 L250.3 117.1 L251.5 116.6 L252.6 116.2 L253.8 115.7 L255.0 115.2 L256.2 114.7 L257.4 114.2 L258.5 113.7 L259.7 113.2 L260.9 112.8 L262.1 112.3 L263.2 111.8 L264.4 111.3 L265.6 110.8 L266.8 110.3 L267.9 109.8 L269.1 109.4 L270.3 108.9 L271.4 108.4 L272.6 107.9 L273.8 107.5 L275.0 107.0 L276.1 106.5 L277.3 106.1 L278.5 105.6 L279.7 105.1 L280.9 104.7 L282.0 104.2 L283.2 103.7 L284.4 103.3 L285.6 102.8 L286.7 102.3 L287.9 101.9 L289.1 101.4 L290.2 101.0 L291.4 100.6 L292.6 100.1 L293.8 99.7 L294.9 99.3 L296.1 98.9 L297.3 98.6 L298.5 98.2 L299.7 97.8 L300.8 97.5 L302.0 97.2 L303.2 96.8 L304.4 96.5 L305.5 96.2 L306.7 95.8 L307.9 95.5 L309.1 95.2 L310.2 94.9 L311.4 94.6 L312.6 94.3 L313.8 94.0 L314.9 93.7 L316.1 93.5 L317.3 93.2 L318.5 92.9 L319.6 92.6 L320.8 92.4 L322.0 92.1 L323.2 91.8 L324.3 91.6 L325.5 91.3 L326.7 91.1 L327.9 90.8 L329.0 90.6 L330.2 90.3 L331.4 90.1 L332.6 89.8 L333.7 89.6 L334.9 89.4 L336.1 89.2 L337.2 88.9 L338.4 88.7 L339.6 88.5 L340.8 88.2 L342.0 88.0 L343.1 87.8 L344.3 87.6 L345.5 87.4 L346.7 87.2 L347.8 86.9 L349.0 86.7 L350.2 86.5 L351.4 86.3 L352.5 86.1 L353.7 85.9 L354.9 85.7 L356.1 85.5 L357.2 85.3 L358.4 85.1 L359.6 84.9 L360.8 84.7 L361.9 84.5 L363.1 84.3 L364.3 84.1 L365.5 83.9 L366.6 83.7 L367.8 83.5 L369.0 83.3 L370.2 83.2 L371.3 83.0 L372.5 82.8 L373.7 82.6 L374.9 82.4 L376.0 82.2 L377.2 82.0 L378.4 81.8 L379.6 81.7 L380.7 81.5 L381.9 81.3 L383.1 81.1 L384.2 81.0 L385.4 80.8 L386.6 80.7 L387.8 80.5 L389.0 80.4 L390.1 80.3 L391.3 80.2 L392.5 80.1 L393.7 80.0 L394.8 80.0 L396.0 79.9 L397.2 79.8 L398.4 79.8 L399.5 79.7 L400.7 79.7 L401.9 79.6 L403.1 79.6 L404.2 79.5 L405.4 79.5 L406.6 79.4 L407.8 79.4 L408.9 79.3 L410.1 79.3 L411.3 79.2 L412.5 79.2 L413.6 79.2 L414.8 79.1 L416.0 79.1 L417.2 79.1 L418.3 79.1 L419.5 79.2 L420.7 79.2 L421.9 79.2 L423.0 79.2 L424.2 79.2 L425.4 79.2 L426.6 79.2 L427.7 79.2 L428.9 79.3 L430.1 79.3 L431.2 79.3 L432.4 79.3 L433.6 79.4 L434.8 79.4 L436.0 79.4 L437.1 79.5 L438.3 79.5 L439.5 79.6 L440.7 79.7 L441.8 79.7 L443.0 79.8 L444.2 79.8 L445.4 79.9 L446.5 79.9 L447.7 80.0 L448.9 80.1 L450.1 80.1 L451.2 80.2 L452.4 80.2 L453.6 80.3 L454.8 80.3 L455.9 80.4 L457.1 80.5 L458.3 80.5 L459.5 80.6 L460.6 80.6 L461.8 80.7 L463.0 80.7 L464.2 80.8 L465.3 80.8 L466.5 80.9 L467.7 80.9 L468.9 81.0 L470.0 81.0 L471.2 81.0 L472.4 81.1 L473.6 81.1 L474.7 81.2 L475.9 81.2 L477.1 81.2 L478.2 81.3 L479.4 81.3 L480.6 81.3 L481.8 81.4 L483.0 81.4 L484.1 81.4 L485.3 81.5 L486.5 81.5 L487.7 81.5 L488.8 81.6 L490.0 81.6 L491.2 81.7 L492.4 81.7 L493.5 81.8 L494.7 81.8 L495.9 81.9 L497.1 81.9 L498.2 82.0 L499.4 82.0 L500.6 82.0 L501.8 82.1 L502.9 82.1 L504.1 82.2 L505.3 82.2 L506.5 82.2 L507.6 82.2 L508.8 82.2 L510.0 82.2 L511.2 82.1 L512.3 81.8 L513.5 81.4 L514.7 79.4 L515.9 77.6 L517.0 78.2 L518.2 79.4 L519.4 80.7 L520.5 81.4 L521.7 81.6 L522.9 81.9 L524.1 82.0 L525.2 82.2 L526.4 82.3 L527.6 82.5 L528.8 82.6 L530.0 82.7 L531.1 82.9 L532.3 83.0" fill="none" stroke="#00e5ee" stroke-width="2.8" stroke-linejoin="round" stroke-linecap="butt"/>
<path d="M175.1 141.8 L176.3 141.5 L177.4 141.2 L178.6 140.9 L179.8 140.6 L181.0 140.4 L182.2 140.1 L183.3 139.9 L184.5 139.6 L185.7 139.5 L186.9 139.3 L188.0 139.1 L189.2 139.0 L190.4 138.8 L191.6 138.6 L192.7 138.4 L193.9 138.3 L195.1 138.1 L196.2 137.9 L197.4 137.7 L198.6 137.4 L199.8 137.2 L200.9 137.0 L202.1 136.8 L203.3 136.5 L204.5 136.2 L205.6 135.9 L206.8 135.5 L208.0 135.2 L209.2 134.8 L210.4 134.4 L211.5 134.0 L212.7 133.6 L213.9 133.1 L215.1 132.7 L216.2 132.3 L217.4 131.8 L218.6 131.4 L219.8 130.9 L220.9 130.4 L222.1 129.9 L223.3 129.4 L224.4 128.9 L225.6 128.4 L226.8 127.9 L228.0 127.4 L229.1 127.0 L230.3 126.5 L231.5 126.0 L232.7 125.6 L233.9 125.1 L235.0 124.7 L236.2 124.2 L237.4 123.8 L238.6 123.3 L239.7 122.9 L240.9 122.4 L242.1 121.9 L243.2 121.5 L244.4 121.0 L245.6 120.6 L246.8 120.1 L247.9 119.7 L249.1 119.2 L250.3 118.8 L251.5 118.3 L252.6 117.8 L253.8 117.4 L255.0 116.9 L256.2 116.4 L257.4 116.0 L258.5 115.5 L259.7 115.0 L260.9 114.5 L262.1 114.1 L263.2 113.6 L264.4 113.1 L265.6 112.7 L266.8 112.2 L267.9 111.7 L269.1 111.3 L270.3 110.8 L271.4 110.4 L272.6 109.9 L273.8 109.5 L275.0 109.0 L276.1 108.6 L277.3 108.1 L278.5 107.6 L279.7 107.2 L280.9 106.7 L282.0 106.3 L283.2 105.8 L284.4 105.4 L285.6 104.9 L286.7 104.5 L287.9 104.1 L289.1 103.6 L290.2 103.2 L291.4 102.8 L292.6 102.4 L293.8 102.0 L294.9 101.6 L296.1 101.2 L297.3 100.9 L298.5 100.5 L299.7 100.2 L300.8 99.8 L302.0 99.5 L303.2 99.2 L304.4 98.9 L305.5 98.6 L306.7 98.2 L307.9 97.9 L309.1 97.6 L310.2 97.3 L311.4 97.1 L312.6 96.8 L313.8 96.5 L314.9 96.2 L316.1 95.9 L317.3 95.7 L318.5 95.4 L319.6 95.1 L320.8 94.9 L322.0 94.6 L323.2 94.4 L324.3 94.1 L325.5 93.9 L326.7 93.6 L327.9 93.4 L329.0 93.2 L330.2 92.9 L331.4 92.7 L332.6 92.5 L333.7 92.3 L334.9 92.0 L336.1 91.8 L337.2 91.6 L338.4 91.4 L339.6 91.2 L340.8 91.0 L342.0 90.8 L343.1 90.6 L344.3 90.3 L345.5 90.1 L346.7 89.9 L347.8 89.7 L349.0 89.5 L350.2 89.3 L351.4 89.1 L352.5 88.9 L353.7 88.7 L354.9 88.5 L356.1 88.3 L357.2 88.1 L358.4 88.0 L359.6 87.8 L360.8 87.6 L361.9 87.4 L363.1 87.2 L364.3 87.0 L365.5 86.9 L366.6 86.7 L367.8 86.5 L369.0 86.3 L370.2 86.2 L371.3 86.0 L372.5 85.8 L373.7 85.6 L374.9 85.4 L376.0 85.3 L377.2 85.1 L378.4 84.9 L379.6 84.7 L380.7 84.6 L381.9 84.4 L383.1 84.3 L384.2 84.1 L385.4 84.0 L386.6 83.8 L387.8 83.7 L389.0 83.6 L390.1 83.5 L391.3 83.4 L392.5 83.3 L393.7 83.2 L394.8 83.2 L396.0 83.1 L397.2 83.0 L398.4 83.0 L399.5 82.9 L400.7 82.9 L401.9 82.8 L403.1 82.8 L404.2 82.7 L405.4 82.7 L406.6 82.6 L407.8 82.6 L408.9 82.5 L410.1 82.5 L411.3 82.4 L412.5 82.4 L413.6 82.4 L414.8 82.3 L416.0 82.3 L417.2 82.3 L418.3 82.3 L419.5 82.2 L420.7 82.2 L421.9 82.2 L423.0 82.2 L424.2 82.2 L425.4 82.2 L426.6 82.1 L427.7 82.1 L428.9 82.1 L430.1 82.1 L431.2 82.1 L432.4 82.1 L433.6 82.1 L434.8 82.1 L436.0 82.1 L437.1 82.1 L438.3 82.2 L439.5 82.2 L440.7 82.2 L441.8 82.3 L443.0 82.3 L444.2 82.3 L445.4 82.3 L446.5 82.4 L447.7 82.4 L448.9 82.4 L450.1 82.5 L451.2 82.5 L452.4 82.5 L453.6 82.5 L454.8 82.6 L455.9 82.6 L457.1 82.6 L458.3 82.7 L459.5 82.7 L460.6 82.7 L461.8 82.7 L463.0 82.8 L464.2 82.8 L465.3 82.8 L466.5 82.8 L467.7 82.8 L468.9 82.9 L470.0 82.9 L471.2 82.9 L472.4 82.9 L473.6 82.9 L474.7 82.9 L475.9 82.9 L477.1 82.9 L478.2 82.9 L479.4 82.9 L480.6 82.9 L481.8 82.9 L483.0 82.9 L484.1 82.9 L485.3 83.0 L486.5 83.0 L487.7 83.0 L488.8 83.0 L490.0 83.0 L491.2 83.0 L492.4 83.1 L493.5 83.1 L494.7 83.1 L495.9 83.1 L497.1 83.1 L498.2 83.1 L499.4 83.2 L500.6 83.2 L501.8 83.2 L502.9 83.2 L504.1 83.2 L505.3 83.2 L506.5 83.2 L507.6 83.2 L508.8 83.2 L510.0 83.1 L511.2 82.9 L512.3 82.6 L513.5 82.2 L514.7 80.2 L515.9 78.4 L517.0 78.9 L518.2 80.1 L519.4 81.3 L520.5 82.0 L521.7 82.3 L522.9 82.4 L524.1 82.6 L525.2 82.7 L526.4 82.8 L527.6 82.9 L528.8 83.0 L530.0 83.1 L531.1 83.3 L532.3 83.4" fill="none" stroke="#a050f0" stroke-width="2.8" stroke-linejoin="round" stroke-linecap="butt"/>
<path d="M175.1 141.8 L176.3 141.6 L177.4 141.5 L178.6 141.3 L179.8 141.2 L181.0 141.1 L182.2 140.9 L183.3 140.8 L184.5 140.7 L185.7 140.6 L186.9 140.4 L188.0 140.3 L189.2 140.2 L190.4 140.0 L191.6 139.9 L192.7 139.7 L193.9 139.6 L195.1 139.4 L196.2 139.2 L197.4 139.0 L198.6 138.9 L199.8 138.7 L200.9 138.5 L202.1 138.2 L203.3 138.0 L204.5 137.7 L205.6 137.4 L206.8 137.1 L208.0 136.8 L209.2 136.4 L210.4 136.1 L211.5 135.7 L212.7 135.3 L213.9 134.9 L215.1 134.5 L216.2 134.1 L217.4 133.7 L218.6 133.2 L219.8 132.7 L220.9 132.3 L222.1 131.8 L223.3 131.3 L224.4 130.8 L225.6 130.4 L226.8 129.9 L228.0 129.5 L229.1 129.0 L230.3 128.6 L231.5 128.2 L232.7 127.7 L233.9 127.3 L235.0 126.9 L236.2 126.4 L237.4 126.0 L238.6 125.6 L239.7 125.2 L240.9 124.7 L242.1 124.3 L243.2 123.9 L244.4 123.5 L245.6 123.0 L246.8 122.6 L247.9 122.2 L249.1 121.7 L250.3 121.3 L251.5 120.9 L252.6 120.4 L253.8 120.0 L255.0 119.6 L256.2 119.1 L257.4 118.7 L258.5 118.2 L259.7 117.8 L260.9 117.3 L262.1 116.9 L263.2 116.4 L264.4 116.0 L265.6 115.6 L266.8 115.1 L267.9 114.7 L269.1 114.2 L270.3 113.8 L271.4 113.4 L272.6 112.9 L273.8 112.5 L275.0 112.1 L276.1 111.7 L277.3 111.2 L278.5 110.8 L279.7 110.4 L280.9 110.0 L282.0 109.5 L283.2 109.1 L284.4 108.7 L285.6 108.3 L286.7 107.8 L287.9 107.4 L289.1 107.0 L290.2 106.6 L291.4 106.2 L292.6 105.9 L293.8 105.5 L294.9 105.1 L296.1 104.8 L297.3 104.4 L298.5 104.1 L299.7 103.8 L300.8 103.5 L302.0 103.2 L303.2 102.9 L304.4 102.6 L305.5 102.3 L306.7 102.0 L307.9 101.7 L309.1 101.4 L310.2 101.1 L311.4 100.9 L312.6 100.6 L313.8 100.3 L314.9 100.1 L316.1 99.8 L317.3 99.6 L318.5 99.3 L319.6 99.1 L320.8 98.8 L322.0 98.6 L323.2 98.4 L324.3 98.1 L325.5 97.9 L326.7 97.7 L327.9 97.5 L329.0 97.2 L330.2 97.0 L331.4 96.8 L332.6 96.6 L333.7 96.4 L334.9 96.2 L336.1 96.0 L337.2 95.8 L338.4 95.6 L339.6 95.4 L340.8 95.2 L342.0 95.0 L343.1 94.8 L344.3 94.6 L345.5 94.4 L346.7 94.2 L347.8 94.1 L349.0 93.9 L350.2 93.7 L351.4 93.5 L352.5 93.3 L353.7 93.1 L354.9 93.0 L356.1 92.8 L357.2 92.6 L358.4 92.4 L359.6 92.3 L360.8 92.1 L361.9 91.9 L363.1 91.8 L364.3 91.6 L365.5 91.5 L366.6 91.3 L367.8 91.1 L369.0 91.0 L370.2 90.8 L371.3 90.7 L372.5 90.5 L373.7 90.3 L374.9 90.2 L376.0 90.0 L377.2 89.9 L378.4 89.7 L379.6 89.6 L380.7 89.4 L381.9 89.3 L383.1 89.1 L384.2 89.0 L385.4 88.9 L386.6 88.7 L387.8 88.6 L389.0 88.5 L390.1 88.4 L391.3 88.4 L392.5 88.3 L393.7 88.2 L394.8 88.1 L396.0 88.0 L397.2 87.9 L398.4 87.9 L399.5 87.8 L400.7 87.7 L401.9 87.6 L403.1 87.6 L404.2 87.5 L405.4 87.4 L406.6 87.4 L407.8 87.3 L408.9 87.2 L410.1 87.2 L411.3 87.1 L412.5 87.1 L413.6 87.0 L414.8 86.9 L416.0 86.9 L417.2 86.8 L418.3 86.8 L419.5 86.7 L420.7 86.6 L421.9 86.6 L423.0 86.5 L424.2 86.4 L425.4 86.4 L426.6 86.3 L427.7 86.2 L428.9 86.2 L430.1 86.1 L431.2 86.1 L432.4 86.0 L433.6 86.0 L434.8 86.0 L436.0 85.9 L437.1 85.9 L438.3 85.9 L439.5 85.9 L440.7 85.8 L441.8 85.8 L443.0 85.8 L444.2 85.8 L445.4 85.8 L446.5 85.8 L447.7 85.7 L448.9 85.7 L450.1 85.7 L451.2 85.7 L452.4 85.7 L453.6 85.6 L454.8 85.6 L455.9 85.6 L457.1 85.6 L458.3 85.6 L459.5 85.6 L460.6 85.5 L461.8 85.5 L463.0 85.5 L464.2 85.4 L465.3 85.3 L466.5 85.3 L467.7 85.2 L468.9 85.1 L470.0 85.0 L471.2 85.0 L472.4 84.9 L473.6 84.8 L474.7 84.7 L475.9 84.6 L477.1 84.5 L478.2 84.5 L479.4 84.4 L480.6 84.3 L481.8 84.2 L483.0 84.1 L484.1 84.1 L485.3 84.0 L486.5 83.9 L487.7 83.8 L488.8 83.8 L490.0 83.7 L491.2 83.6 L492.4 83.5 L493.5 83.5 L494.7 83.4 L495.9 83.3 L497.1 83.3 L498.2 83.2 L499.4 83.1 L500.6 83.0 L501.8 83.0 L502.9 82.9 L504.1 82.8 L505.3 82.7 L506.5 82.6 L507.6 82.5 L508.8 82.4 L510.0 82.3 L511.2 82.0 L512.3 81.6 L513.5 81.1 L514.7 79.0 L515.9 77.1 L517.0 77.6 L518.2 78.7 L519.4 79.8 L520.5 80.4 L521.7 80.6 L522.9 80.7 L524.1 80.7 L525.2 80.8 L526.4 80.8 L527.6 80.8 L528.8 80.8 L530.0 80.8 L531.1 80.9 L532.3 80.9" fill="none" stroke="#0000ff" stroke-width="3.3" stroke-linejoin="round" stroke-linecap="butt"/>
<path d="M62.3 177.4 L63.5 176.0 L64.6 174.5 L65.8 172.6 L67.0 170.6 L68.2 169.1 L69.3 167.7 L70.5 166.4 L71.7 165.3 L72.9 164.2 L74.0 163.2 L75.2 162.4 L76.4 161.7 L77.6 161.1 L78.8 160.7 L79.9 160.2 L81.1 159.9 L82.3 159.7 L83.5 159.5 L84.6 159.3 L85.8 159.1 L87.0 159.0 L88.2 158.8 L89.3 158.7 L90.5 158.5 L91.7 158.3 L92.8 158.2 L94.0 158.0 L95.2 157.8 L96.4 157.7 L97.5 157.5 L98.7 157.4 L99.9 157.2 L101.1 157.0 L102.2 156.9 L103.4 156.7 L104.6 156.5 L105.8 156.4 L106.9 156.2 L108.1 156.0 L109.3 155.8 L110.5 155.6 L111.7 155.5 L112.8 155.3 L114.0 155.1 L115.2 154.9 L116.3 154.7 L117.5 154.5 L118.7 154.3 L119.9 154.1 L121.0 153.9 L122.2 153.6 L123.4 153.4 L124.6 153.2 L125.8 153.0 L126.9 152.8 L128.1 152.5 L129.3 152.3 L130.4 152.1 L131.6 151.8 L132.8 151.6 L134.0 151.3 L135.2 151.0 L136.3 150.7 L137.5 150.5 L138.7 150.2 L139.8 149.8 L141.0 149.5 L142.2 149.2 L143.4 148.9 L144.6 148.6 L145.7 148.2 L146.9 147.9 L148.1 147.6 L149.2 147.3 L150.4 146.9 L151.6 146.6 L152.8 146.3 L153.9 146.1 L155.1 145.8 L156.3 145.5 L157.5 145.2 L158.7 145.0 L159.8 144.7 L161.0 144.5 L162.2 144.2 L163.3 144.0 L164.5 143.8 L165.7 143.5 L166.9 143.3 L168.1 143.1 L169.2 142.8 L170.4 142.6 L171.6 142.4 L172.8 142.2 L173.9 142.0 L175.1 141.8 L176.3 141.6 L177.4 141.4 L178.6 141.2 L179.8 141.1 L181.0 140.9 L182.2 140.8 L183.3 140.6 L184.5 140.5" transform="translate(0 0.3)" fill="none" stroke="#a030f0" stroke-width="5" stroke-linecap="butt"/>
<path d="M62.3 177.4 L63.5 176.0 L64.6 174.5 L65.8 172.6 L67.0 170.6 L68.2 169.1 L69.3 167.7 L70.5 166.4 L71.7 165.3 L72.9 164.2 L74.0 163.2 L75.2 162.4 L76.4 161.7 L77.6 161.1 L78.8 160.7 L79.9 160.2 L81.1 159.9 L82.3 159.7 L83.5 159.5 L84.6 159.3 L85.8 159.1 L87.0 159.0 L88.2 158.8 L89.3 158.7 L90.5 158.5 L91.7 158.3 L92.8 158.2 L94.0 158.0 L95.2 157.8 L96.4 157.7 L97.5 157.5 L98.7 157.4 L99.9 157.2 L101.1 157.0 L102.2 156.9 L103.4 156.7 L104.6 156.5 L105.8 156.4 L106.9 156.2 L108.1 156.0 L109.3 155.8 L110.5 155.6 L111.7 155.5 L112.8 155.3 L114.0 155.1 L115.2 154.9 L116.3 154.7 L117.5 154.5 L118.7 154.3 L119.9 154.1 L121.0 153.9 L122.2 153.6 L123.4 153.4 L124.6 153.2 L125.8 153.0 L126.9 152.8 L128.1 152.5 L129.3 152.3 L130.4 152.1 L131.6 151.8 L132.8 151.6 L134.0 151.3 L135.2 151.0 L136.3 150.7 L137.5 150.5 L138.7 150.2 L139.8 149.8 L141.0 149.5 L142.2 149.2 L143.4 148.9 L144.6 148.6 L145.7 148.2 L146.9 147.9 L148.1 147.6 L149.2 147.3 L150.4 146.9 L151.6 146.6 L152.8 146.3 L153.9 146.1 L155.1 145.8 L156.3 145.5 L157.5 145.2 L158.7 145.0 L159.8 144.7 L161.0 144.5 L162.2 144.2 L163.3 144.0 L164.5 143.8 L165.7 143.5 L166.9 143.3 L168.1 143.1 L169.2 142.8 L170.4 142.6 L171.6 142.4 L172.8 142.2 L173.9 142.0 L175.1 141.8 L176.3 141.6 L177.4 141.4 L178.6 141.2 L179.8 141.1 L181.0 140.9 L182.2 140.8 L183.3 140.6 L184.5 140.5" transform="translate(0 0.3)" fill="none" stroke="#ff30ff" stroke-width="5" stroke-dasharray="1.2 3.5"/>
<path d="M62.3 177.4 L63.5 176.0 L64.6 174.5 L65.8 172.6 L67.0 170.6 L68.2 169.1 L69.3 167.7 L70.5 166.4 L71.7 165.3 L72.9 164.2 L74.0 163.2 L75.2 162.4 L76.4 161.7 L77.6 161.1 L78.8 160.7 L79.9 160.2 L81.1 159.9 L82.3 159.7 L83.5 159.5 L84.6 159.3 L85.8 159.1 L87.0 159.0 L88.2 158.8 L89.3 158.7 L90.5 158.5 L91.7 158.3 L92.8 158.2 L94.0 158.0 L95.2 157.8 L96.4 157.7 L97.5 157.5 L98.7 157.4 L99.9 157.2 L101.1 157.0 L102.2 156.9 L103.4 156.7 L104.6 156.5 L105.8 156.4 L106.9 156.2 L108.1 156.0 L109.3 155.8 L110.5 155.6 L111.7 155.5 L112.8 155.3 L114.0 155.1 L115.2 154.9 L116.3 154.7 L117.5 154.5 L118.7 154.3 L119.9 154.1 L121.0 153.9 L122.2 153.6 L123.4 153.4 L124.6 153.2 L125.8 153.0 L126.9 152.8 L128.1 152.5 L129.3 152.3 L130.4 152.1 L131.6 151.8 L132.8 151.6 L134.0 151.3 L135.2 151.0 L136.3 150.7 L137.5 150.5 L138.7 150.2 L139.8 149.8 L141.0 149.5 L142.2 149.2 L143.4 148.9 L144.6 148.6 L145.7 148.2 L146.9 147.9 L148.1 147.6 L149.2 147.3 L150.4 146.9 L151.6 146.6 L152.8 146.3 L153.9 146.1 L155.1 145.8 L156.3 145.5 L157.5 145.2 L158.7 145.0 L159.8 144.7 L161.0 144.5 L162.2 144.2 L163.3 144.0 L164.5 143.8 L165.7 143.5 L166.9 143.3 L168.1 143.1 L169.2 142.8 L170.4 142.6 L171.6 142.4 L172.8 142.2 L173.9 142.0 L175.1 141.8 L176.3 141.6 L177.4 141.4 L178.6 141.2 L179.8 141.1 L181.0 140.9 L182.2 140.8 L183.3 140.6 L184.5 140.5" transform="translate(0 -0.9)" fill="none" stroke="#0000ff" stroke-width="3.2" stroke-linecap="butt"/>
<path d="M62.3 177.4 L63.5 176.0 L64.6 174.5 L65.8 172.6 L67.0 170.6 L68.2 169.1 L69.3 167.7 L70.5 166.4 L71.7 165.3 L72.9 164.2 L74.0 163.2 L75.2 162.4 L76.4 161.7 L77.6 161.1 L78.8 160.7 L79.9 160.2 L81.1 159.9 L82.3 159.7 L83.5 159.5 L84.6 159.3 L85.8 159.1 L87.0 159.0 L88.2 158.8 L89.3 158.7 L90.5 158.5 L91.7 158.3 L92.8 158.2 L94.0 158.0 L95.2 157.8 L96.4 157.7 L97.5 157.5 L98.7 157.4 L99.9 157.2 L101.1 157.0 L102.2 156.9 L103.4 156.7 L104.6 156.5 L105.8 156.4 L106.9 156.2 L108.1 156.0 L109.3 155.8 L110.5 155.6 L111.7 155.5 L112.8 155.3 L114.0 155.1 L115.2 154.9 L116.3 154.7 L117.5 154.5 L118.7 154.3 L119.9 154.1 L121.0 153.9 L122.2 153.6 L123.4 153.4 L124.6 153.2 L125.8 153.0 L126.9 152.8 L128.1 152.5 L129.3 152.3 L130.4 152.1 L131.6 151.8 L132.8 151.6 L134.0 151.3 L135.2 151.0 L136.3 150.7 L137.5 150.5 L138.7 150.2 L139.8 149.8 L141.0 149.5 L142.2 149.2 L143.4 148.9 L144.6 148.6 L145.7 148.2 L146.9 147.9 L148.1 147.6 L149.2 147.3 L150.4 146.9 L151.6 146.6 L152.8 146.3 L153.9 146.1 L155.1 145.8 L156.3 145.5 L157.5 145.2 L158.7 145.0 L159.8 144.7 L161.0 144.5 L162.2 144.2 L163.3 144.0 L164.5 143.8 L165.7 143.5 L166.9 143.3 L168.1 143.1 L169.2 142.8 L170.4 142.6 L171.6 142.4 L172.8 142.2 L173.9 142.0 L175.1 141.8 L176.3 141.6 L177.4 141.4 L178.6 141.2 L179.8 141.1 L181.0 140.9 L182.2 140.8 L183.3 140.6 L184.5 140.5" transform="translate(0 0.5)" fill="none" stroke="#38b0f8" stroke-width="1.1" stroke-linecap="butt"/>
<circle cx="62.3" cy="177.9" r="2.2" fill="#fff" stroke="#e040ff" stroke-width="1.2"/>
<text x="185" y="97.4" font-size="13" font-weight="bold" fill="#000" textLength="97.8" lengthAdjust="spacingAndGlyphs">Treatment starts</text>
<line x1="193.3" y1="110.9" x2="181.5" y2="127" stroke="#000" stroke-width="1.3"/>
<path d="M179.3 130 L180.6 122.8 L185.6 126.4 Z" fill="#000"/>
<text x="4.2" y="280.4" font-size="14.5" fill="#000">B</text>
<defs><pattern id="hatch" width="4.7" height="4.7" patternUnits="userSpaceOnUse" patternTransform="rotate(48)"><rect width="4.7" height="4.7" fill="#fff"/><rect width="4.7" height="2.5" fill="#000"/></pattern></defs>
<path d="M86.1 394.6 V381.6 M79.3 381.6 H92.9" fill="none" stroke="#000" stroke-width="1.3"/>
<rect x="73.1" y="395.2" width="26.0" height="35.4" fill="#fff" stroke="#000" stroke-width="1.3"/>
<path d="M126.9 321.9 V294.2 M120.1 294.2 H133.8" fill="none" stroke="#000" stroke-width="1.3"/>
<rect x="113.3" y="322.5" width="27.3" height="108.1" fill="#000" stroke="#000" stroke-width="1.3"/>
<path d="M167.9 381.6 V369.4 M161.1 369.4 H174.7" fill="none" stroke="#000" stroke-width="1.3"/>
<rect x="154.5" y="382.2" width="26.8" height="48.4" fill="url(#hatch)" stroke="#000" stroke-width="1.3"/>
<path d="M208.8 383.4 V370.5 M202.0 370.5 H215.6" fill="none" stroke="#000" stroke-width="1.3"/>
<rect x="195.3" y="384.0" width="27.0" height="46.6" fill="#d4d4d4" stroke="#000" stroke-width="1.3"/>
<path d="M65.6 286.0 V430.6 H230.3 M65.6 430.6 h-3.6 M65.6 394.6 h-3.6 M65.6 358.6 h-3.6 M65.6 322.6 h-3.6 M65.6 286.6 h-3.6 M86.1 430.6 v3.8 M126.9 430.6 v3.8 M167.9 430.6 v3.8 M208.8 430.6 v3.8" fill="none" stroke="#000" stroke-width="1.3"/>
<text x="60.2" y="434.6" font-size="11.4" fill="#000" stroke="#000" stroke-width="0.35" text-anchor="end" textLength="5" lengthAdjust="spacingAndGlyphs">0</text>
<text x="60.2" y="398.6" font-size="11.4" fill="#000" stroke="#000" stroke-width="0.35" text-anchor="end" textLength="5" lengthAdjust="spacingAndGlyphs">1</text>
<text x="60.2" y="362.6" font-size="11.4" fill="#000" stroke="#000" stroke-width="0.35" text-anchor="end" textLength="5" lengthAdjust="spacingAndGlyphs">2</text>
<text x="60.2" y="326.6" font-size="11.4" fill="#000" stroke="#000" stroke-width="0.35" text-anchor="end" textLength="5" lengthAdjust="spacingAndGlyphs">3</text>
<text x="60.2" y="290.6" font-size="11.4" fill="#000" stroke="#000" stroke-width="0.35" text-anchor="end" textLength="5" lengthAdjust="spacingAndGlyphs">4</text>
<path d="M85.6 370.8 V278.4 H125.8 V283.6" fill="none" stroke="#000" stroke-width="1.2"/>
<text x="105.8" y="275.2" font-size="16" fill="#000" stroke="#000" stroke-width="0.3" text-anchor="middle" textLength="11.8" lengthAdjust="spacingAndGlyphs">**</text>
<text x="2.5" y="452" font-size="11.6" fill="#000" textLength="65" lengthAdjust="spacingAndGlyphs" stroke="#000" stroke-width="0.4">Fendiline (µM)</text>
<text x="86.2" y="452" font-size="11.4" fill="#000" stroke="#000" stroke-width="0.35" text-anchor="middle" textLength="3" lengthAdjust="spacingAndGlyphs">-</text>
<text x="126.2" y="452" font-size="11.4" fill="#000" stroke="#000" stroke-width="0.35" text-anchor="middle" textLength="17.8" lengthAdjust="spacingAndGlyphs">0.01</text>
<text x="167.6" y="452" font-size="11.4" fill="#000" stroke="#000" stroke-width="0.35" text-anchor="middle" textLength="12.5" lengthAdjust="spacingAndGlyphs">0.1</text>
<text x="209.2" y="452" font-size="11.4" fill="#000" stroke="#000" stroke-width="0.35" text-anchor="middle" textLength="4.6" lengthAdjust="spacingAndGlyphs">1</text>
<text transform="translate(43.0 357.5) rotate(-90)" font-size="10.4" font-weight="bold" fill="#000" text-anchor="middle" textLength="136" lengthAdjust="spacingAndGlyphs">NDM29 (n-fold increase)</text>
</svg>
</body></html>
